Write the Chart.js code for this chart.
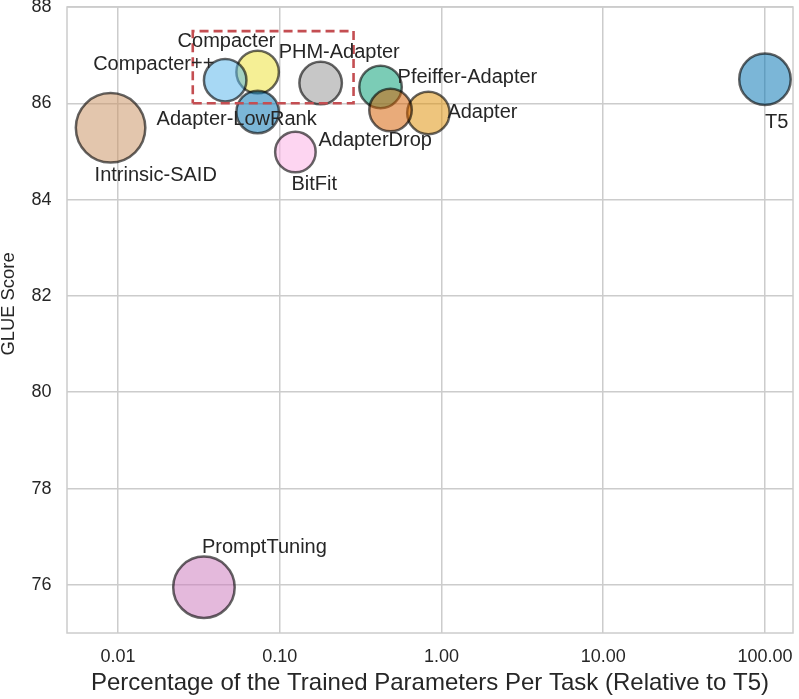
<!DOCTYPE html>
<html><head><meta charset="utf-8">
<script src="https://cdn.jsdelivr.net/npm/chart.js@4.4.0/dist/chart.umd.min.js"></script>
<style>html,body{margin:0;padding:0;background:#fff;}#wrap{width:799px;height:699px;}</style>
</head><body><div id="wrap"><canvas id="c" width="799" height="699"></canvas></div>
<script>
// ---- data ----
const models = ['T5','Adapter','Pfeiffer-Adapter','AdapterDrop','PromptTuning','Intrinsic-SAID','BitFit','PHM-Adapter','Compacter','Compacter++','Adapter-LowRank'];
const paramPercent = [100, 0.83, 0.42, 0.484, 0.034, 0.009, 0.125, 0.179, 0.073, 0.046, 0.073];
const glueScore = [86.5, 85.8, 86.34, 85.86, 75.95, 85.49, 84.99, 86.42, 86.65, 86.48, 85.82];
const bubbleSize = [25.75, 21.25, 21.25, 21.25, 30.75, 34.75, 20.25, 21.25, 21.25, 21.25, 21.25];
const xTickValues = [0.01, 0.1, 1, 10, 100];
const yTickValues = [76, 78, 80, 82, 84, 86, 88];
const highlightX = [0.029, 0.286];
const highlightY = [86.0, 87.5];
const xTitle = 'Percentage of the Trained Parameters Per Task (Relative to T5)';
const yTitle = 'GLUE Score';

// ---- styles ----
const palette = ['#0173B2','#DE8F05','#029E73','#D55E00','#CC78BC','#CA9161','#FBAFE4','#949494','#ECE133','#56B4E9','#0173B2'];
function withAlpha(hex, a){const n=parseInt(hex.slice(1),16);return `rgba(${n>>16},${(n>>8)&255},${n&255},${a})`;}
const labelOffset = [[0,43],[19,0],[17,-9],[-72,30],[-2,-39.5],[-16,48],[-4,33],[-42,-31],[-80,-31],[-132,-16],[-101,8]];
const FONT = '"Liberation Sans", Arial, sans-serif';
const TEXT = '#262626';
const GRID = '#cccccc';

const bubbleData = models.map((m,i)=>({x:paramPercent[i], y:glueScore[i], r:bubbleSize[i]}));
const boxData = [
  {x:highlightX[0], y:highlightY[0]}, {x:highlightX[1], y:highlightY[0]},
  {x:highlightX[1], y:highlightY[1]}, {x:highlightX[0], y:highlightY[1]},
  {x:highlightX[0], y:highlightY[0]}
];

const framePlugin = {
  id:'frame',
  beforeDatasetsDraw(chart){
    const {ctx, chartArea:a} = chart;
    ctx.save(); ctx.strokeStyle = GRID; ctx.lineWidth = 1.5;
    ctx.strokeRect(a.left, a.top, a.right-a.left, a.bottom-a.top);
    ctx.restore();
  },
  afterDatasetsDraw(chart){
    const {ctx} = chart;
    const xs = chart.scales.x, ys = chart.scales.y;
    ctx.save();
    ctx.fillStyle = TEXT;
    ctx.font = '20px ' + FONT;
    ctx.textAlign = 'left'; ctx.textBaseline = 'middle';
    models.forEach((m,i)=>{
      const px = xs.getPixelForValue(paramPercent[i]);
      const py = ys.getPixelForValue(glueScore[i]);
      ctx.fillText(m, px + labelOffset[i][0], py + labelOffset[i][1]);
    });
    // y axis title
    ctx.font = '18.4px ' + FONT;
    ctx.textAlign = 'center';
    ctx.translate(8.5, 304);
    ctx.rotate(-Math.PI/2);
    ctx.fillText(yTitle, 0, 0);
    ctx.restore();
  }
};

new Chart(document.getElementById('c'), {
  data: {
    datasets: [
      {
        type:'bubble',
        data: bubbleData,
        backgroundColor: palette.map(c=>withAlpha(c,0.52)),
        borderColor: 'rgba(0,0,0,0.6)',
        borderWidth: 2.5,
        hoverBorderWidth: 2.5,
        order: 1
      },
      {
        type:'line',
        data: boxData,
        borderColor: '#c44e52',
        borderWidth: 2.6,
        borderDash: [9,5],
        pointRadius: 0,
        fill: false,
        tension: 0,
        order: 0
      }
    ]
  },
  options: {
    responsive: false,
    animation: false,
    events: [],
    layout: { autoPadding: false, padding: {top: 7, right: 6, left: 0, bottom: 0} },
    plugins: { legend: {display:false}, tooltip: {enabled:false} },
    scales: {
      x: {
        type: 'logarithmic',
        min: 0.00484,
        max: 149,
        afterBuildTicks(s){ s.ticks = xTickValues.map(v=>({value:v})); },
        afterFit(s){ s.height = 66; s.paddingLeft = 0; s.paddingRight = 0; },
        ticks: {
          font: {family: FONT, size: 18}, color: TEXT, padding: 13.7,
          maxRotation: 0, autoSkip: false,
          callback: v => Number(v).toFixed(2)
        },
        grid: { color: GRID, lineWidth: 1.5, drawTicks: false },
        border: { display: false },
        title: { display: true, text: xTitle, color: TEXT, font: {family: FONT, size: 24}, padding: {top: 0, bottom: 1.2} }
      },
      y: {
        type: 'linear',
        min: 75.0,
        max: 88,
        afterBuildTicks(s){ s.ticks = yTickValues.map(v=>({value:v})); },
        afterFit(s){ s.width = 67; s.paddingTop = 0; s.paddingBottom = 0; },
        ticks: { font: {family: FONT, size: 18}, color: TEXT, padding: 15.5, callback: v => String(v) },
        grid: { color: GRID, lineWidth: 1.5, drawTicks: false },
        border: { display: false },
        title: { display: false }
      }
    }
  },
  plugins: [framePlugin]
});
</script>
</body></html>
